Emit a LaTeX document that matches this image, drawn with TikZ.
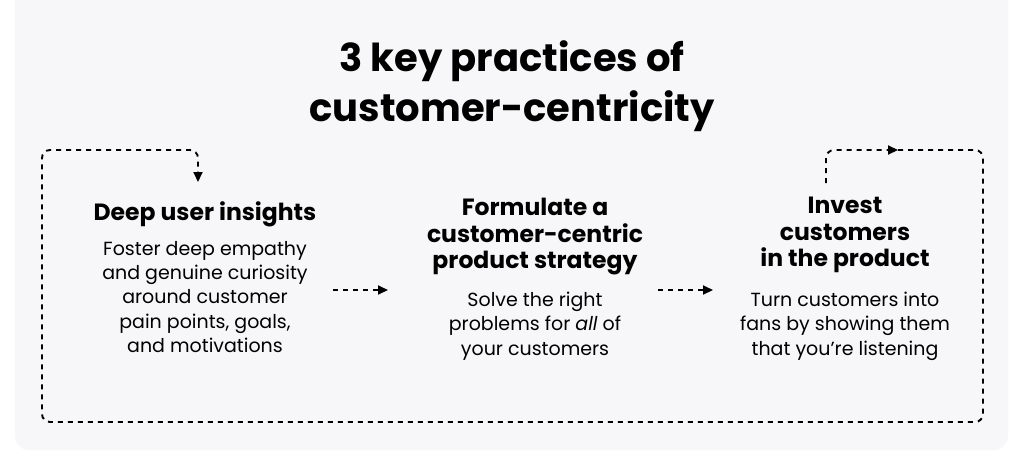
\documentclass[tikz,border=0pt]{standalone}
\usepackage{fontspec}
\setmainfont{Poppins}
\usetikzlibrary{positioning,arrows.meta}
\definecolor{panelgray}{rgb}{0.969,0.969,0.976}
\tikzset{
  headtext/.style={align=center,font=\fontsize{23.5}{26.5}\selectfont\bfseries,inner sep=0pt},
  bodytext/.style={align=center,font=\fontsize{19}{24.3}\selectfont,inner sep=0pt},
  loop/.style={dashed,dash pattern=on 5pt off 5pt,line width=1.9pt,rounded corners=8pt},
  tip/.style={-{Triangle[length=10pt,width=9pt]}}
}
\begin{document}
\begin{tikzpicture}[x=1pt,y=-1pt]
\useasboundingbox (0,0) rectangle (1024,467);
\fill[white] (0,0) rectangle (1024,467);
\fill[panelgray,rounded corners=14pt] (15,-20) rectangle (1008,450);

% title
\node[align=center,font=\fontsize{38.5}{50}\selectfont\bfseries,inner sep=0pt] (title) at (512,86)
  {3 key practices of\\customer-centricity};

% three practices
\node[headtext,anchor=north] (insightshead) at (205,201) {Deep user insights};
\node[bodytext,anchor=north] (insightsbody) at (205,241)
  {Foster deep empathy\\and genuine curiosity\\around customer\\pain points, goals,\\and motivations};
\node[headtext,anchor=north] (strategyhead) at (535,198)
  {Formulate a\\customer-centric\\product strategy};
\node[bodytext,anchor=north] (strategybody) at (535,292)
  {Solve the right\\problems for \textit{all} of\\your customers};
\node[headtext,anchor=north] (investhead) at (845,197)
  {Invest\\customers\\in the product};
\node[bodytext,anchor=north] (investbody) at (845,292)
  {Turn customers into\\fans by showing them\\that you’re listening};

% arrows between practices
\coordinate (a1) at (333,290);
\coordinate (a2) at (388,290);
\coordinate (b1) at (658,290);
\coordinate (b2) at (713,290);
\draw[loop,tip] (a1) -- (a2);
\draw[loop,tip] (b1) -- (b2);

% feedback loop
\coordinate (outstart) at (826,183);
\coordinate (midtip) at (898,150);
\coordinate (instop) at (198,182);
\draw[loop,tip] (outstart) -- (826,150) -- (midtip);
\draw[loop,tip] (midtip) -- (983,150) -- (983,422) -- (42,422) -- (42,150) -- (198,150) -- (instop);
\end{tikzpicture}
\end{document}
